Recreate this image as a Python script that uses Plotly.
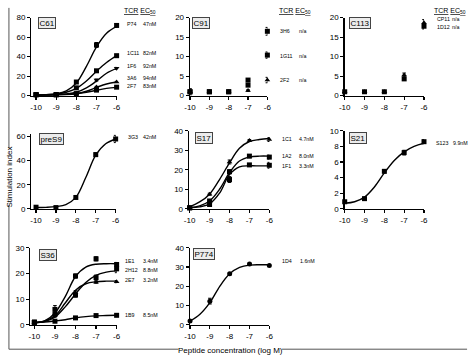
import plotly.graph_objects as go

W, H = 474, 362
def px(x): return x / W
def py(y): return 1 - y / H

# ---------------- data ----------------
log_conc = [-10, -9, -8, -7, -6]
log_conc_labels = ["-10", "-9", "-8", "-7", "-6"]
fit_x = [-10, -9.5, -9, -8.5, -8, -7.5, -7, -6.5, -6]

# C61
c61_tcr = ["P74", "1C11", "1F6", "3A6", "2F7"]
c61_ec50 = ["47nM", "82nM", "92nM", "94nM", "83nM"]
c61_vals = [[1, 1, 14, 52, 72], [1, 1, 8, 25.5, 41], [1, 1, 3, 16, 28], [1, 1, 2, 9, 14], [1, 1, 2, 5.7, 8.7]]
c61_err = [[0.5, 0.5, 1.5, 2.5, 2], [0, 0, 0.8, 1.2, 1], [0, 0, 0.5, 1, 1], [0, 0, 0.3, 0.5, 0.6], [0, 0, 0.3, 0.5, 0.5]]
c61_fit = [[0.5, 1, 2, 5, 13, 30, 50, 64, 71], [0.5, 0.8, 1.5, 3.5, 7.5, 15, 25, 34, 41],
           [0.5, 0.6, 1, 1.8, 3.5, 8, 15, 23, 28], [0.5, 0.6, 1, 1.3, 2, 4.5, 8.5, 12, 14],
           [0.5, 0.6, 0.9, 1.2, 2, 3.5, 5.5, 7.5, 8.5]]
c61_yticks = [0, 20, 40, 60, 80]

# C91
c91_tcr = ["3H6", "1G11", "2F2"]
c91_ec50 = ["n/a", "n/a", "n/a"]
c91_vals = [[1, 1, 1, 4, 16.5], [1, 1, 1, 2.7, 10.4], [1, 1, 1, 1.3, 4]]
c91_err = [[0.8, 0.2, 0.2, 0.4, 1.0], [0.3, 0.2, 0.2, 0.3, 0.8], [0.3, 0.2, 0.2, 0.2, 0.7]]
c91_yticks = [0, 5, 10, 15, 20]

# C113
c113_tcr = ["CP11", "1D12"]
c113_ec50 = ["n/a", "n/a"]
c113_vals = [[1, 1, 1, 5.3, 18.7], [1, 1, 1, 4.3, 17.8]]
c113_err = [[0.2, 0.2, 0.2, 0.5, 0.8], [0.2, 0.2, 0.2, 0.4, 0.7]]
c113_yticks = [0, 5, 10, 15, 20]

# preS9
pres9_tcr = ["3G3"]
pres9_ec50 = ["42nM"]
pres9_vals = [[1.3, 1, 9.4, 45, 58]]
pres9_err = [[0.5, 0.3, 1, 1.5, 3]]
pres9_fit = [[1, 1.2, 1.8, 3.5, 9.5, 26, 44.5, 54, 58]]
pres9_yticks = [0, 20, 40, 60]

# S17
s17_tcr = ["1C1", "1A2", "1F1"]
s17_ec50 = ["4.7nM", "8.0nM", "3.3nM"]
s17_vals = [[0.5, 7.5, 24, 35, 35.5], [0.5, 4, 19, 27, 26.5], [0.5, 2.2, 15, 22.5, 22.3]]
s17_err = [[0.3, 0.5, 1, 0.5, 1], [0.3, 0.5, 1, 0.8, 1], [0.3, 0.5, 1.5, 0.5, 1.5]]
s17_fit = [[1, 3.5, 7.5, 15, 23.5, 31, 34.5, 35.5, 36], [0.5, 1.5, 4, 10, 18.5, 24.5, 26.5, 27, 27],
           [0.5, 1, 2.5, 8, 17.5, 21.5, 22, 22, 22]]
s17_yticks = [0, 10, 20, 30, 40]

# S21
s21_tcr = ["S123"]
s21_ec50 = ["9.9nM"]
s21_vals = [[0.9, 1.3, 4.8, 7.2, 8.6]]
s21_err = [[0.1, 0.15, 0.2, 0.3, 0.25]]
s21_fit = [[0.7, 0.9, 1.5, 2.8, 4.6, 6.2, 7.3, 8.0, 8.4]]
s21_yticks = [0, 2, 4, 6, 8, 10]

# S36
s36_tcr = ["1E1", "2H12", "2E7", "1B9"]
s36_ec50 = ["3.4nM", "8.8nM", "3.2nM", "8.5nM"]
s36_vals = [[1, 4, 19, 25.7, 23.5], [1, 6, 11.6, 18.4, 21.8], [1, 4, 12.5, 16.6, 16.8], [1, 1.4, 2.7, 3.6, 3.7]]
s36_err = [[0.3, 1, 0.8, 0.8, 0.8], [0.3, 1.5, 0.8, 1, 1.5], [0.3, 0.5, 0.8, 0.4, 0.4], [0.2, 0.2, 0.2, 0.2, 0.2]]
s36_fit = [[0.8, 1.5, 4.6, 11, 18.8, 22.5, 23.6, 23.8, 23.8], [0.8, 1.3, 3, 7, 12, 16.5, 19.3, 20.5, 21],
           [0.8, 1.5, 3.5, 8.5, 13.5, 16, 16.8, 17, 17], [1, 1.1, 1.5, 2, 2.7, 3.2, 3.5, 3.6, 3.7]]
s36_yticks = [0, 10, 20, 30]

# P774
p774_tcr = ["1D4"]
p774_ec50 = ["1.6nM"]
p774_vals = [[2, 12.3, 26.5, 31.6, 30.8]]
p774_err = [[0.5, 1.5, 0.5, 0.5, 0.5]]
p774_fit = [[2, 5.5, 11.5, 20, 26.5, 29.8, 31, 31.2, 31.2]]
p774_yticks = [0, 10, 20, 30, 40]

# ---------------- layout of panels (pixel positions) ----------------
panels = [
    dict(name="C61", tcr=c61_tcr, ec50=c61_ec50, vals=c61_vals, err=c61_err, fit=c61_fit,
         sym=["square", "square", "triangle-down", "triangle-up", "square"], yt=c61_yticks,
         xd=(26, 113), xr=(-10.23, -6), yd=(14, 94), yr=(0, 80), box=(33, 13),
         lx=(122, 138), ly=[21, 50, 64, 76, 84], hdr=(118, 7)),
    dict(name="C91", tcr=c91_tcr, ec50=c91_ec50, vals=c91_vals, err=c91_err, fit=None,
         sym=["square", "square", "triangle-up"], yt=c91_yticks,
         xd=(188, 267), xr=(-10, -6), yd=(14, 94), yr=(0, 20), box=(190, 13),
         lx=(278, 297), ly=[28, 53, 78], hdr=(277, 7)),
    dict(name="C113", tcr=c113_tcr, ec50=c113_ec50, vals=c113_vals, err=c113_err, fit=None,
         sym=["triangle-up", "square"], yt=c113_yticks,
         xd=(346, 427), xr=(-10, -6), yd=(14, 94), yr=(0, 20), box=(350, 13),
         lx=(438, 454), ly=[15, 24], hdr=(435, 7)),
    dict(name="preS9", tcr=pres9_tcr, ec50=pres9_ec50, vals=pres9_vals, err=pres9_err, fit=pres9_fit,
         sym=["square"], yt=pres9_yticks,
         xd=(26, 112), xr=(-10.23, -6), yd=(133, 210), yr=(0, 62.4), box=(34, 132),
         lx=(123, 138), ly=[136], hdr=None),
    dict(name="S17", tcr=s17_tcr, ec50=s17_ec50, vals=s17_vals, err=s17_err, fit=s17_fit,
         sym=["triangle-up", "square", "square"], yt=s17_yticks,
         xd=(187, 269), xr=(-10.03, -6), yd=(130, 210), yr=(0, 40), box=(193, 131),
         lx=(280, 297), ly=[138, 156, 166], hdr=None),
    dict(name="S21", tcr=s21_tcr, ec50=s21_ec50, vals=s21_vals, err=s21_err, fit=s21_fit,
         sym=["square"], yt=s21_yticks,
         xd=(346, 427), xr=(-10, -6), yd=(130, 210), yr=(0, 10), box=(350, 131),
         lx=(437, 455), ly=[143], hdr=None),
    dict(name="S36", tcr=s36_tcr, ec50=s36_ec50, vals=s36_vals, err=s36_err, fit=s36_fit,
         sym=["square", "square", "triangle-up", "square"], yt=s36_yticks,
         xd=(25, 113), xr=(-10.19, -6), yd=(250, 329), yr=(0, 30), box=(34, 251),
         lx=(120, 138), ly=[264, 273, 283, 319], hdr=None),
    dict(name="P774", tcr=p774_tcr, ec50=p774_ec50, vals=p774_vals, err=p774_err, fit=p774_fit,
         sym=["circle"], yt=p774_yticks,
         xd=(188, 269), xr=(-10, -6), yd=(250, 329), yr=(0, 40), box=(191, 250),
         lx=(280, 298), ly=[264], hdr=None),
]

FONT = "Liberation Sans, Arial, Helvetica, sans-serif"
LEG_SIZE = 5.3
fig = go.Figure()
annotations = []
shapes = []
layout_axes = {}

for i, p in enumerate(panels, start=1):
    xa = "x" if i == 1 else f"x{i}"
    ya = "y" if i == 1 else f"y{i}"
    xk = "xaxis" if i == 1 else f"xaxis{i}"
    yk = "yaxis" if i == 1 else f"yaxis{i}"
    common = dict(showline=True, linecolor="black", linewidth=1.4, ticks="outside", ticklen=3,
                  tickwidth=1.2, tickcolor="black", showgrid=False, zeroline=False,
                  tickfont=dict(size=8, color="black", family=FONT), fixedrange=True)
    layout_axes[xk] = dict(domain=[px(p["xd"][0]), px(p["xd"][1])], range=list(p["xr"]), anchor=ya,
                           tickvals=log_conc, ticktext=log_conc_labels, **common)
    layout_axes[yk] = dict(domain=[py(p["yd"][1]), py(p["yd"][0])], range=list(p["yr"]), anchor=xa,
                           tickvals=p["yt"], ticktext=[str(v) for v in p["yt"]], **common)
    for j, vals in enumerate(p["vals"]):
        if p["fit"] is not None:
            fig.add_trace(go.Scatter(x=fit_x, y=p["fit"][j], mode="lines", xaxis=xa, yaxis=ya,
                                     line=dict(color="black", width=1.4, shape="spline", smoothing=1.0),
                                     cliponaxis=False, hoverinfo="skip"))
        fig.add_trace(go.Scatter(x=log_conc, y=vals, mode="markers", xaxis=xa, yaxis=ya,
                                 marker=dict(color="black", size=5, symbol=p["sym"][j]),
                                 error_y=dict(type="data", array=p["err"][j], thickness=1, width=1.8,
                                              color="black"),
                                 cliponaxis=False))
        annotations.append(dict(x=px(p["lx"][0]), y=py(p["ly"][j]), xref="paper", yref="paper",
                                text=p["tcr"][j], showarrow=False, xanchor="left", yanchor="middle",
                                font=dict(size=LEG_SIZE, color="black", family=FONT)))
        annotations.append(dict(x=px(p["lx"][1]), y=py(p["ly"][j]), xref="paper", yref="paper",
                                text=p["ec50"][j], showarrow=False, xanchor="left", yanchor="middle",
                                font=dict(size=LEG_SIZE, color="black", family=FONT)))
    # panel title box
    annotations.append(dict(x=px(p["box"][0]), y=py(p["box"][1]), xref="paper", yref="paper",
                            text=p["name"], showarrow=False, xanchor="left", yanchor="top",
                            font=dict(size=8, color="black", family=FONT),
                            bordercolor="#444", borderwidth=1, borderpad=0.5, bgcolor="#ececec"))
    if p["hdr"] is not None:
        annotations.append(dict(x=px(p["hdr"][0]), y=py(p["hdr"][1]), xref="paper", yref="paper",
                                text="<u>TCR</u> <u>EC<sub>50</sub></u>", showarrow=False,
                                xanchor="left", yanchor="middle",
                                font=dict(size=7, color="black", family=FONT)))

# frame lines and outer titles
frame_col = "#555"
for (x0, y0, x1, y1) in [(3, 4, 3, 148), (3, 206, 3, 354), (3, 354, 176, 354), (282, 354, 471, 354)]:
    shapes.append(dict(type="line", xref="paper", yref="paper", x0=px(x0), y0=py(y0), x1=px(x1), y1=py(y1),
                       line=dict(color=frame_col, width=1)))

annotations.append(dict(x=px(229), y=py(355.5), xref="paper", yref="paper", text="Peptide concentration (log M)",
                        showarrow=False, xanchor="center", yanchor="middle",
                        font=dict(size=8, color="black", family=FONT)))
annotations.append(dict(x=px(4), y=py(177), xref="paper", yref="paper", text="Stimulation index",
                        showarrow=False, xanchor="center", yanchor="middle", textangle=-90,
                        font=dict(size=8, color="black", family=FONT)))

fig.update_layout(width=W, height=H, margin=dict(l=0, r=0, t=0, b=0), showlegend=False,
                  plot_bgcolor="white", paper_bgcolor="white", annotations=annotations, shapes=shapes,
                  font=dict(family=FONT), **layout_axes)

fig.write_html("out.html", config={"displayModeBar": False, "staticPlot": True},
               post_script="document.body.style.margin='0';document.body.style.padding='0';")
